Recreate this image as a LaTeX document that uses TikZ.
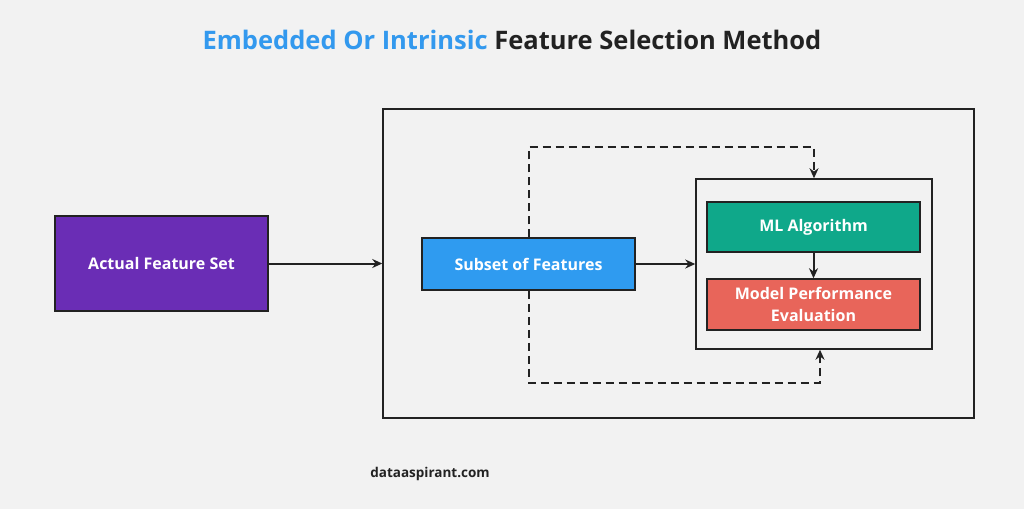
\documentclass[tikz,border=0pt]{standalone}
\usepackage{fontspec}
\setmainfont{Open Sans}
\usetikzlibrary{arrows.meta}
\definecolor{bgc}{HTML}{F2F2F2}
\definecolor{titleblue}{HTML}{3399EE}
\definecolor{purplec}{HTML}{6A2DB5}
\definecolor{bluec}{HTML}{2F9BF0}
\definecolor{greenc}{HTML}{0FA88A}
\definecolor{redc}{HTML}{E8655A}
\definecolor{darkc}{HTML}{222222}
\tikzset{
  box/.style={draw=darkc,line width=1.5pt,text=white,font=\bfseries\fontsize{16}{22}\selectfont,align=center,inner sep=0pt},
  arr/.style={-{Stealth[length=10pt,width=9pt]},line width=2pt,draw=darkc},
  dash arr/.style={arr,dash pattern=on 8pt off 5pt}
}
\begin{document}
\begin{tikzpicture}[x=1pt,y=-1pt]
    \fill[bgc] (0,0) rectangle (1024,509);
    \useasboundingbox (0,0) rectangle (1024,509);
    \node (title) at (512,40) {\bfseries\fontsize{25.5}{30}\selectfont\textcolor{titleblue}{Embedded Or Intrinsic} \textcolor{darkc}{Feature Selection Method}};
    \node[draw=darkc,line width=1.5pt,minimum width=591pt,minimum height=309pt] (outer) at (678.5,263.5) {};
    \node[draw=darkc,line width=1.5pt,minimum width=236pt,minimum height=170pt] (inner) at (814,264) {};
    \node[box,fill=purplec,minimum width=213pt,minimum height=95pt] (actual) at (161.5,263.5) {Actual Feature Set};
    \node[box,fill=bluec,minimum width=213pt,minimum height=52pt] (subset) at (528.5,264) {Subset of Features};
    \node[box,fill=greenc,minimum width=213pt,minimum height=50pt] (ml) at (813.5,227) {ML Algorithm};
    \node[box,fill=redc,minimum width=213pt,minimum height=51pt] (eval) at (813.5,304.5) {Model Performance\\Evaluation};
    \node[font=\bfseries\fontsize{13.5}{16}\selectfont,text=darkc] (site) at (430,474) {dataaspirant.com};
    \draw[arr] (actual) -- (outer.west |- actual);
    \draw[arr] (subset) -- (inner.west |- subset);
    \draw[arr] (ml) -- (eval);
    \draw[dash arr] (subset.north) -- ++(0,-90) -| (inner.north);
    \draw[dash arr] (subset.south) -- ++(0,92) -| ([xshift=6pt]inner.south);
\end{tikzpicture}
\end{document}
